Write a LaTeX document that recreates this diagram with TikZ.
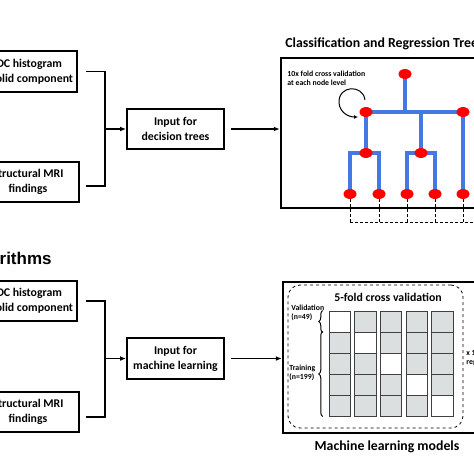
\documentclass[tikz,border=0pt]{standalone}
\usepackage{fontspec}
\setmainfont{Carlito}
\newfontfamily\headfont{Liberation Sans}
\usetikzlibrary{positioning,arrows.meta,shapes.geometric,backgrounds,decorations.pathreplacing}
\definecolor{branchblue}{RGB}{70,120,225}
\definecolor{cellgray}{RGB}{220,223,224}

\begin{document}
\begin{tikzpicture}[x=1pt, y=-1pt, thick,
    main/.style = {draw, rectangle, line width=2pt, align=center, inner sep=2pt, font=\bfseries\fontsize{11.8}{15}\selectfont},
    panel/.style = {draw, rectangle, line width=2.5pt, minimum width=240pt, minimum height=150pt},
    treenode/.style = {ellipse, fill=red, minimum width=13pt, minimum height=10pt, inner sep=0pt},
    branch/.style = {line width=3.2pt, branchblue},
    conn/.style = {line width=1.3pt},
    arr/.style = {line width=1.3pt, -{Latex[length=6pt,width=5pt]}},
    link/.style = {line width=1pt, dash pattern=on 3pt off 2pt},
    cell/.style = {draw=black!75, line width=1pt, minimum width=21.5pt, minimum height=21pt, inner sep=0pt},
    small/.style = {font=\bfseries\fontsize{7.8}{9.5}\selectfont, align=left, inner sep=0pt},
    heading/.style = {font=\bfseries\fontsize{13.8}{16}\selectfont, inner sep=0pt}]
    \useasboundingbox (0,0) rectangle (474,474);
    \clip (0,0) rectangle (474,474);

    % decision trees
    \node[main, minimum width=103pt, minimum height=41pt] (adc1) at (25.7,71.5) {ADC histogram\\of solid component};
    \node[main, minimum width=102pt, minimum height=40pt] (mri1) [below of=adc1, node distance=110.5pt, xshift=2.3pt] {Structural MRI\\findings};
    \node[main, minimum width=97pt, minimum height=40pt] (in1) at (175.5,129) {Input for\\decision trees};
    \node[panel] (cart) at (401,133) {};
    \node[heading, anchor=base west] (carttitle) at (285,47.5) {Classification and Regression Trees};
    \coordinate (j1) at (105,129);
    \draw[conn] ([xshift=8pt]adc1.east) -| (j1) |- ([xshift=6pt,yshift=-4pt]mri1.east);
    \draw[arr] (j1) -- (in1.west);
    \draw[arr] ([xshift=6pt]in1.east) -- (in1.east -| cart.west);

    % tree
    \node[treenode] (t0) at (405,74) {};
    \node[treenode] (t1) at (366,112) {};
    \node[treenode] (t2) at (463,112) {};
    \node[treenode] (t3) at (366,153) {};
    \node[treenode] (t4) at (421,153) {};
    \node[treenode] (l1) at (350,194) {};
    \node[treenode] (l2) at (379,194) {};
    \node[treenode] (l3) at (407,194) {};
    \node[treenode] (l4) at (435,194) {};
    \node[treenode] (l5) at (463,194) {};
    \begin{scope}[on background layer]
        \draw[branch] (t1.center) -- (t2.center);
        \draw[branch] (t0.center) -- (t0.center |- t1.center);
        \draw[branch] (t4.center |- t1.center) -- (t4.center);
        \draw[branch] (t1.center) -- (t3.center);
        \draw[branch] (l1.center) |- (t3.center) -| (l2.center);
        \draw[branch] (l3.center) |- (t4.center) -| (l4.center);
        \draw[branch] (t2.center) -- (l5.center);
    \end{scope}
    \coordinate (dl) at (350,222);
    \foreach \n in {l1,l2,l3,l4,l5}
        \draw[link] (\n.south) -- (\n |- dl);
    \draw[link] (dl) -- ++(150,0);
    \node[small, anchor=west] (cvnote) at (287,78.5) {10x fold cross validation\\at each node level};
    \draw[line width=1pt, -{Latex[length=4pt,width=4pt]}] (365,100) .. controls (363,84) and (338,85) .. (339,103) .. controls (340,113) and (349,117) .. (358,117);

    % machine learning
    \node[anchor=base east, inner sep=0pt, font=\headfont\bfseries\fontsize{17}{20}\selectfont] (mltitle) at (52,264) {Machine learning algorithms};
    \node[main, minimum width=103pt, minimum height=40pt] (adc2) at (25.7,301) {ADC histogram\\of solid component};
    \node[main, minimum width=102pt, minimum height=40pt] (mri2) [below of=adc2, node distance=111pt, xshift=2.3pt] {Structural MRI\\findings};
    \node[main, minimum width=97pt, minimum height=41pt] (in2) at (175.5,358.5) {Input for\\machine learning};
    \node[panel, minimum height=151pt] (mlm) at (403,357.5) {};
    \node[heading, anchor=base] (mlmlabel) at (387,450) {Machine learning models};
    \coordinate (j2) at (105,358.5);
    \draw[conn] ([xshift=8pt]adc2.east) -| (j2) |- ([xshift=6pt,yshift=-5pt]mri2.east);
    \draw[arr] (j2) -- (in2.west);
    \draw[arr] ([xshift=6pt]in2.east) -- (in2.east -| mlm.west);

    % 5-fold grid
    \node[draw, dashed, rounded corners=12pt, line width=0.8pt, minimum width=175pt, minimum height=143pt] (cv) at (375.5,356.5) {};
    \node[font=\bfseries\fontsize{11.8}{14}\selectfont, anchor=base, inner sep=0pt] (cvtitle) at (388,301) {5-fold cross validation};
    \foreach \c in {0,...,4}
        \foreach \r in {0,...,4} {
            \ifnum\c=\r \def\cellfill{white}\else \def\cellfill{cellgray}\fi
            \node[cell, fill=\cellfill] (g\c\r) at ({340+25.6*\c},{321.5+21*\r}) {};
        }
    \draw[line width=1pt, decorate, decoration={brace, amplitude=4pt}] ([xshift=-6pt]g00.south west) -- ([xshift=-6pt]g00.north west);
    \draw[line width=1pt, decorate, decoration={brace, amplitude=4pt}] ([xshift=-6pt]g04.south west) -- ([xshift=-6pt]g01.north west);
    \node[small, anchor=west] (vallabel) at (291,313) {Validation\\(n=49)};
    \node[small, anchor=west] (trainlabel) at (289,373) {Training\\(n=199)};
    \node[small, anchor=west] (replabel) at (466,358) {x 10\\repeats};
\end{tikzpicture}
\end{document}
